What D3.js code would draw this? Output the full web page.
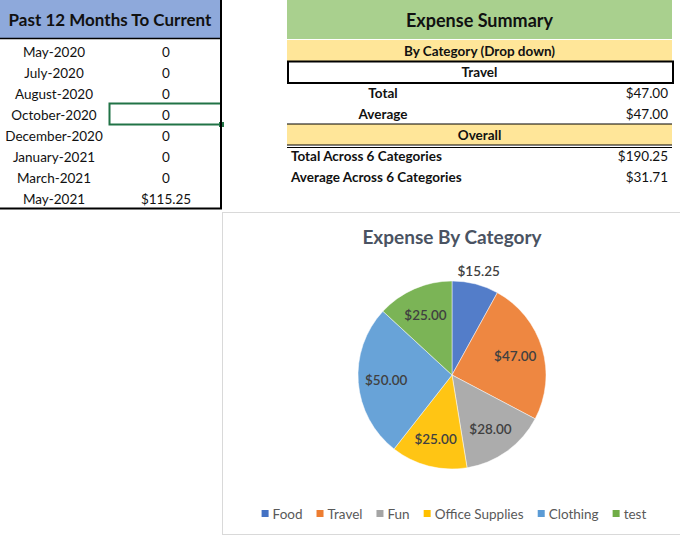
<!DOCTYPE html>
<html>
<head>
<meta charset="utf-8">
<script src="https://cdn.jsdelivr.net/npm/d3@7/dist/d3.min.js"></script>
<style>
  body { margin: 0; background: #fff; }
  svg { display: block; font-family: Lato, "Open Sans", sans-serif; }
</style>
</head>
<body>
<div id="chart"></div>
<script>
// ---- data ----
const months = ["May-2020", "July-2020", "August-2020", "October-2020", "December-2020", "January-2021", "March-2021", "May-2021"];
const monthTotals = [0, 0, 0, 0, 0, 0, 0, 115.25];
const selectedMonth = "October-2020";

const categories = ["Food", "Travel", "Fun", "Office Supplies", "Clothing", "test"];
const categoryValues = [15.25, 47, 28, 25, 50, 25];
const categoryColors = ["#4472C4", "#ED7D31", "#A5A5A5", "#FFC000", "#5B9BD5", "#70AD47"];
const selectedCategory = "Travel";

const W = 680, H = 540;
const money = d3.format("$,.2f");
const fmtMonth = (v) => (v === 0 ? "0" : money(v));

const svg = d3.select("#chart").append("svg")
  .attr("width", W).attr("height", H)
  .attr("viewBox", `0 0 ${W} ${H}`);

// ---- left table: past 12 months ----
const rowY = d3.scaleBand().domain(months).range([41, 209]);
const leftX = { label: 54, value: 166, right: 221 };

svg.append("rect").attr("x", 0).attr("y", 0).attr("width", leftX.right).attr("height", 38).attr("fill", "#8EA9DB");
svg.append("text")
  .attr("x", 110).attr("y", 19)
  .attr("text-anchor", "middle").attr("dominant-baseline", "central")
  .attr("font-size", 17).attr("font-weight", 700).attr("fill", "#111")
  .text("Past 12 Months To Current");

const leftRows = svg.append("g").selectAll("g").data(months).join("g")
  .attr("transform", (d) => `translate(0,${rowY(d) + rowY.bandwidth() / 2})`);
leftRows.append("text")
  .attr("x", leftX.label).attr("text-anchor", "middle").attr("dominant-baseline", "central")
  .attr("font-size", 13.5).attr("fill", "#111").text((d) => d);
leftRows.append("text")
  .attr("x", leftX.value).attr("text-anchor", "middle").attr("dominant-baseline", "central")
  .attr("font-size", 13.5).attr("fill", "#111").text((d, i) => fmtMonth(monthTotals[i]));

// selected cell
svg.append("rect")
  .attr("x", 109.5).attr("y", rowY(selectedMonth) - 0.5)
  .attr("width", leftX.right - 109.5).attr("height", rowY.bandwidth())
  .attr("fill", "none").attr("stroke", "#217346").attr("stroke-width", 2);
svg.append("rect")
  .attr("x", leftX.right - 2).attr("y", rowY(selectedMonth) + rowY.bandwidth() - 3)
  .attr("width", 5).attr("height", 5).attr("fill", "#217346");

svg.append("line").attr("x1", 0).attr("x2", leftX.right).attr("y1", 38.5).attr("y2", 38.5).attr("stroke", "#000").attr("stroke-width", 1.5);
svg.append("line").attr("x1", leftX.right).attr("x2", leftX.right).attr("y1", 0).attr("y2", 209).attr("stroke", "#000").attr("stroke-width", 2);
svg.append("line").attr("x1", 0).attr("x2", leftX.right + 1).attr("y1", 208.5).attr("y2", 208.5).attr("stroke", "#000").attr("stroke-width", 2);

// ---- right table: expense summary ----
const selIdx = categories.indexOf(selectedCategory);
const selTotal = categoryValues[selIdx];
const selAverage = categoryValues[selIdx] / 1;
const overallTotal = d3.sum(categoryValues);
const overallAverage = overallTotal / categories.length;

const summaryRows = [
  { key: "by", label: "By Category (Drop down)" },
  { key: "sel", label: selectedCategory },
  { key: "total", label: "Total", value: money(selTotal) },
  { key: "avg", label: "Average", value: money(selAverage) },
  { key: "overall", label: "Overall" },
  { key: "oTotal", label: `Total Across ${categories.length} Categories`, value: money(overallTotal) },
  { key: "oAvg", label: `Average Across ${categories.length} Categories`, value: money(overallAverage) },
];
const sumY = d3.scaleBand().domain(summaryRows.map((d) => d.key)).range([40, 187]);
const rx0 = 287, rx1 = 672, rmid = (rx0 + rx1) / 2;

svg.append("rect").attr("x", rx0).attr("y", 0).attr("width", rx1 - rx0).attr("height", 39).attr("fill", "#A9D08E");
svg.append("text")
  .attr("x", rmid) .attr("y", 19.5)
  .attr("text-anchor", "middle").attr("dominant-baseline", "central")
  .attr("font-size", 18).attr("font-weight", 700).attr("fill", "#111")
  .text("Expense Summary");

["by", "overall"].forEach((k) => {
  svg.append("rect").attr("x", rx0).attr("y", sumY(k)).attr("width", rx1 - rx0).attr("height", sumY.bandwidth())
    .attr("fill", "#FFE699");
});
svg.append("rect")
  .attr("x", rx0 + 1).attr("y", sumY("sel") + 0.5).attr("width", rx1 - rx0).attr("height", sumY.bandwidth() + 0.5)
  .attr("fill", "#fff").attr("stroke", "#000").attr("stroke-width", 2);
svg.append("line").attr("x1", rx0).attr("x2", rx1).attr("y1", sumY("overall")).attr("y2", sumY("overall")).attr("stroke", "#000").attr("stroke-width", 1);
const ovBottom = sumY("overall") + sumY.bandwidth();
svg.append("line").attr("x1", rx0).attr("x2", rx1).attr("y1", ovBottom).attr("y2", ovBottom).attr("stroke", "#000").attr("stroke-width", 1);
svg.append("line").attr("x1", rx0).attr("x2", rx1).attr("y1", ovBottom + 2.5).attr("y2", ovBottom + 2.5).attr("stroke", "#000").attr("stroke-width", 1);

const sumG = svg.append("g").selectAll("g").data(summaryRows).join("g")
  .attr("transform", (d) => `translate(0,${sumY(d.key) + sumY.bandwidth() / 2})`);
sumG.append("text")
  .attr("x", (d) => (d.key === "total" || d.key === "avg" ? 383 : d.key.startsWith("o") && d.key !== "overall" ? 291 : rmid))
  .attr("text-anchor", (d) => (d.key.startsWith("o") && d.key !== "overall" ? "start" : "middle"))
  .attr("dominant-baseline", "central")
  .attr("font-size", 13.5).attr("font-weight", 700).attr("fill", "#111")
  .text((d) => d.label);
sumG.filter((d) => d.value).append("text")
  .attr("x", 668).attr("text-anchor", "end").attr("dominant-baseline", "central")
  .attr("font-size", 13.5).attr("fill", "#111")
  .text((d) => d.value);

// ---- chart area ----
svg.append("rect")
  .attr("x", 222.5).attr("y", 212.5).attr("width", 480).attr("height", 322)
  .attr("fill", "#fff").attr("stroke", "#D9D9D9").attr("stroke-width", 1);

svg.append("text")
  .attr("x", 452).attr("y", 236)
  .attr("text-anchor", "middle").attr("dominant-baseline", "central")
  .attr("font-size", 19).attr("font-weight", 700).attr("fill", "#4A5362")
  .text("Expense By Category");

const cx = 452, cy = 375, R = 94;
const defs = svg.append("defs");
categoryColors.forEach((c, i) => {
  const g = defs.append("linearGradient").attr("id", `grad${i}`)
    .attr("gradientUnits", "userSpaceOnUse")
    .attr("x1", cx).attr("y1", cy - R).attr("x2", cx).attr("y2", cy + R);
  g.append("stop").attr("offset", "0%").attr("stop-color", d3.interpolateRgb(c, "#fff")(0.08));
  g.append("stop").attr("offset", "100%").attr("stop-color", d3.interpolateRgb(c, "#000")(0.08));
});

const pie = d3.pie().sort(null).value((d) => d.value);
const arcs = pie(categories.map((name, i) => ({ name, value: categoryValues[i], i })));
const arc = d3.arc().innerRadius(0).outerRadius(R);
const pieG = svg.append("g").attr("transform", `translate(${cx},${cy})`);

pieG.selectAll("path").data(arcs).join("path")
  .attr("d", arc)
  .attr("fill", (d) => `url(#grad${d.data.i})`)
  .attr("stroke", "#fff").attr("stroke-opacity", 0.6).attr("stroke-width", 0.8);

const inLabel = d3.arc().innerRadius(66).outerRadius(66);
const outLabel = d3.arc().innerRadius(R + 13).outerRadius(R + 13);
pieG.selectAll("text").data(arcs).join("text")
  .attr("transform", (d) => {
    const small = d.endAngle - d.startAngle < 0.6;
    return `translate(${(small ? outLabel : inLabel).centroid(d)})`;
  })
  .attr("text-anchor", "middle").attr("dominant-baseline", "central")
  .attr("font-size", 13.5).attr("font-weight", 600).attr("fill", "#404040")
  .text((d) => money(d.data.value));

// ---- legend ----
const legend = svg.append("g");
const items = legend.selectAll("g").data(categories).join("g");
items.append("rect").attr("y", -4).attr("width", 7).attr("height", 7)
  .attr("fill", (d, i) => categoryColors[i]);
items.append("text").attr("x", 11).attr("dominant-baseline", "central")
  .attr("font-size", 13.5).attr("fill", "#595959").text((d) => d);
let lx = 0;
items.each(function () {
  const w = this.getBBox().width;
  d3.select(this).attr("data-x", lx);
  lx += w + 14;
});
const totalW = lx - 14;
const lx0 = 454 - totalW / 2;
items.attr("transform", function () { return `translate(${lx0 + +this.getAttribute("data-x")},514)`; });
</script>
</body>
</html>
